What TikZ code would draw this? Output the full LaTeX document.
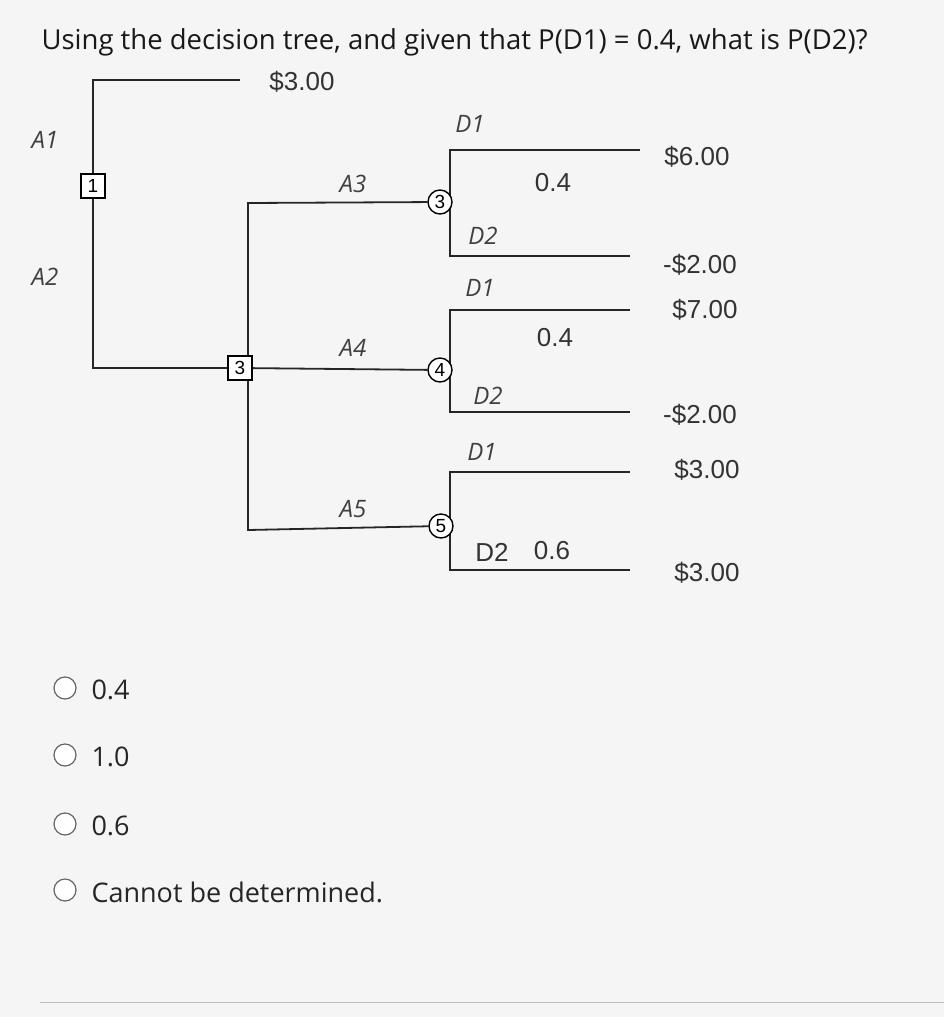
\documentclass[tikz,border=0pt]{standalone}
\usepackage{fontspec}
\setmainfont{Open Sans}
\newfontfamily\tree{Liberation Sans}
\usetikzlibrary{backgrounds}
\begin{document}
\begin{tikzpicture}[x=1pt,y=-1pt,
  ln/.style={line width=1.8pt,black!85},
  box/.style={draw,line width=1.4pt,minimum size=24pt,inner sep=0pt,fill=white,font=\tree\fontsize{19}{19}\selectfont},
  chance/.style={circle,draw,line width=1.4pt,minimum size=24pt,inner sep=0pt,fill=white,font=\tree\fontsize{19}{19}\selectfont},
  lab/.style={font=\tree\fontsize{26}{26}\selectfont,text=black!80},
  alab/.style={font=\rmfamily\itshape\fontsize{24}{24}\selectfont,text=black!75},
  opt/.style={circle,draw=black!60,line width=1.2pt,minimum size=22pt,inner sep=0pt,fill=white},
  otxt/.style={anchor=west,font=\fontsize{27}{27}\selectfont,text=black!85}]
\useasboundingbox (0,0) rectangle (944,1017);
\node[anchor=west,font=\fontsize{27.5}{27.5}\selectfont,text=black!90] (title) at (38,42) {Using the decision tree, and given that P(D1) = 0.4, what is P(D2)?};
% decision node 1
\node[box] (b1) at (93,186) {1};
\coordinate (t1) at (93,80); \coordinate (t1e) at (240,80);
\coordinate (a2c) at (93,368);
\node[lab] (v0) at (302,82) {\$3.00};
\node[box] (b3) at (240,368) {3};
\node[alab] (A1) at (45,140) {A1};
\node[alab] (A2) at (45,277) {A2};
\coordinate (v3t) at (248,203); \coordinate (v3b) at (248,530);
\node[chance] (c3) at (440,202) {3};
\node[chance] (c4) at (440,370) {4};
\node[chance] (c5) at (441,526) {5};
\node[alab] (A3) at (353,184) {A3};
\node[alab] (A4) at (353,348) {A4};
\node[alab] (A5) at (353,509) {A5};
\coordinate (c3t) at (450,150); \coordinate (c3b) at (450,256);
\coordinate (c3te) at (640,150); \coordinate (c3be) at (630,256);
\coordinate (c4t) at (450,310); \coordinate (c4b) at (450,412);
\coordinate (c4te) at (630,310); \coordinate (c4be) at (630,412);
\coordinate (c5t) at (450,472); \coordinate (c5b) at (450,570);
\coordinate (c5te) at (630,472); \coordinate (c5be) at (630,570);
\begin{scope}[on background layer]
\fill[black!4] (0,0) rectangle (944,1017);
\draw[ln] (t1e) -- (t1) -- (b1) -- (a2c) -- (b3);
\draw[ln] (c3) -- (v3t) -- (v3b) -- (c5);
\draw[ln] (b3) -- (c4);
\draw[ln] (c3te) -- (c3t) -- (c3b) -- (c3be);
\draw[ln] (c4te) -- (c4t) -- (c4b) -- (c4be);
\draw[ln] (c5te) -- (c5t) -- (c5b) -- (c5be);
\end{scope}
\node[alab] at (470,124) {D1};
\node[alab] at (483,236) {D2};
\node[lab] at (553,183) {0.4};
\node[lab] at (697,157) {\$6.00};
\node[lab] at (700,265) {-\$2.00};
\node[alab] at (480,288) {D1};
\node[alab] at (488,396) {D2};
\node[lab] at (555,338) {0.4};
\node[lab] at (705,310) {\$7.00};
\node[lab] at (700,415) {-\$2.00};
\node[alab] at (482,452) {D1};
\node[lab] at (492,552) {D2};
\node[lab] at (552,551) {0.6};
\node[lab] at (707,470) {\$3.00};
\node[lab] at (707,573) {\$3.00};
% options
\node[opt] (o1) at (65,688) {}; \node[otxt] at (88,690) {0.4};
\node[opt] (o2) at (65,755) {}; \node[otxt] at (88,757) {1.0};
\node[opt] (o3) at (65,824) {}; \node[otxt] at (88,826) {0.6};
\node[opt] (o4) at (65,890) {}; \node[otxt] at (88,892) {Cannot be determined.};
\draw[black!25,line width=1pt] (40,1002) -- (944,1002);
\end{tikzpicture}
\end{document}
